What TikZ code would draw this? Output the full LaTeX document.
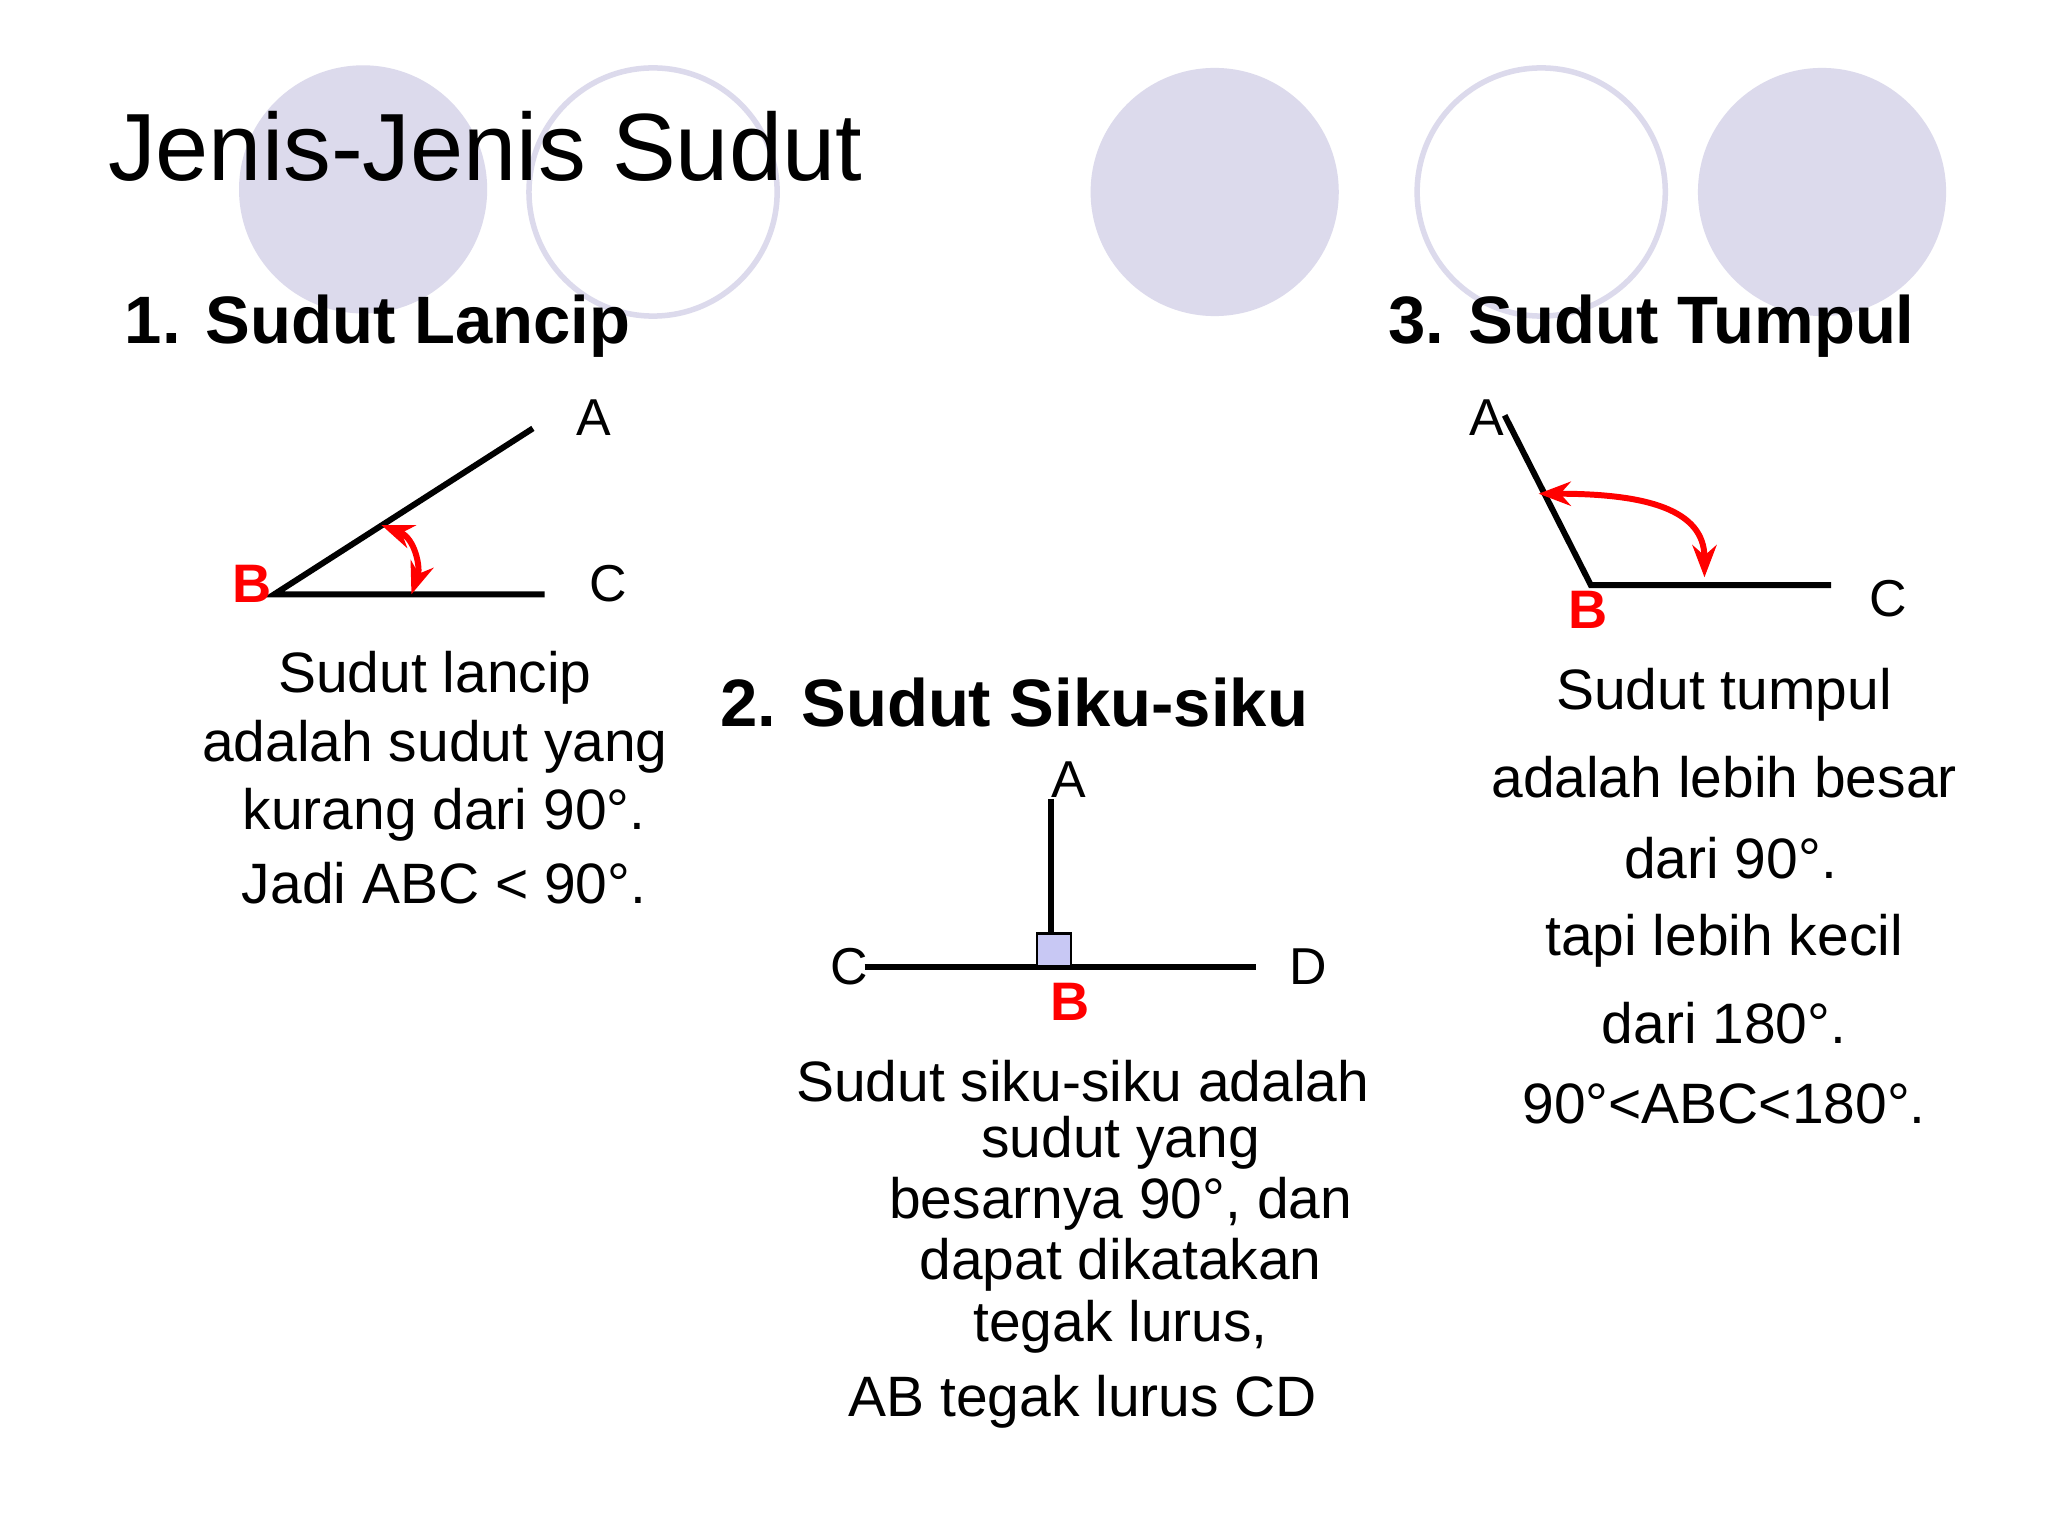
\documentclass[tikz,border=0pt]{standalone}
\usepackage{fontspec}
\setmainfont{Liberation Sans}
\usetikzlibrary{arrows.meta}
\definecolor{lav}{HTML}{DCDAEC}
\definecolor{sq}{HTML}{C8C8F4}
\begin{document}
\begin{tikzpicture}[x=0.01cm,y=-0.01cm,
 fcirc/.style={fill=lav},
 ocirc/.style={draw=lav,line width=1.2pt},
 ttl/.style={font=\fontsize{20.8}{25}\selectfont,anchor=base west,inner sep=0pt},
 head/.style={font=\fontsize{14.6}{18}\selectfont\bfseries,anchor=west,inner sep=0pt},
 body/.style={font=\fontsize{12.4}{15}\selectfont},
 lbl/.style={font=\fontsize{11.3}{14}\selectfont},
 blbl/.style={font=\fontsize{11.8}{14}\selectfont\bfseries,text=red},
 ray/.style={line width=1.3pt},
 rarr/.style={red,line width=1.3pt,{Stealth[length=7pt]}-{Stealth[length=7pt]}}]
\useasboundingbox (0,0) rectangle (1568,1176);
\fill[white] (0,0) rectangle (1568,1176);
\fill[fcirc] (278,145) circle (95);
\draw[ocirc] (500,147) circle (95);
\fill[fcirc] (930,147) circle (95);
\draw[ocirc] (1180,147) circle (95);
\fill[fcirc] (1395,147) circle (95);
\node[ttl] (title) at (82,138) {Jenis-Jenis Sudut};
% 1
\node[head] (h1) at (95,250) {1. Sudut Lancip};
\coordinate (B1) at (210,455); \coordinate (A1) at (408,328); \coordinate (C1) at (417,455);
\draw[ray] (A1) -- (B1) -- (C1);
\coordinate (r1) at (292,402); \coordinate (r2) at (315,455);
\draw[rarr] (r1) .. controls (318,412) and (322,435) .. (r2);
\node[lbl] (la1) at (455,320) {A};
\node[lbl] (lc1) at (466,447) {C};
\node[blbl] (lb1) at (193,447) {B};
\node[body] (t1a) at (333,519) {Sudut lancip};
\node[body] (t1b) at (333,572) {adalah sudut yang};
\node[body] (t1c) at (340,624) {kurang dari 90°.};
\node[body] (t1d) at (340,676) {Jadi ABC < 90°.};
% 2
\node[head] (h2) at (551,538) {2. Sudut Siku-siku};
\coordinate (A2) at (805,612); \coordinate (B2) at (805,740);
\coordinate (C2) at (662,740); \coordinate (D2) at (962,740);
\draw[ray] (A2) -- (B2);
\draw[ray] (C2) -- (D2);
\draw[fill=sq,line width=0.6pt] (794,715) rectangle (820,740);
\node[lbl] (la2) at (818,597) {A};
\node[lbl] (lc2) at (650,740) {C};
\node[lbl] (ld2) at (1002,740) {D};
\node[blbl] (lb2) at (819,767) {B};
\node[body] (t2a) at (829,828) {Sudut siku-siku adalah};
\node[body] (t2b) at (858,875) {sudut yang};
\node[body] (t2c) at (858,922) {besarnya 90°, dan};
\node[body] (t2d) at (858,968) {dapat dikatakan};
\node[body] (t2e) at (858,1016) {tegak lurus,};
\node[body] (t2f) at (829,1073) {AB tegak lurus CD};
% 3
\node[head] (h3) at (1062,250) {3. Sudut Tumpul};
\coordinate (A3) at (1152,318); \coordinate (B3) at (1218,448); \coordinate (C3) at (1402,448);
\draw[ray] (A3) -- (B3) -- (C3);
\draw[rarr] (1178,378) .. controls (1260,378) and (1305,390) .. (1305,442);
\node[lbl] (la3) at (1138,320) {A};
\node[lbl] (lc3) at (1446,458) {C};
\node[blbl] (lb3) at (1216,467) {B};
\node[body] (t3a) at (1320,532) {Sudut tumpul};
\node[body] (t3b) at (1320,595) {adalah lebih besar};
\node[body] (t3c) at (1325,657) {dari 90°.};
\node[body] (t3d) at (1320,720) {tapi lebih kecil};
\node[body] (t3e) at (1320,783) {dari 180°.};
\node[body] (t3f) at (1320,845) {90°<ABC<180°.};
\end{tikzpicture}
\end{document}
